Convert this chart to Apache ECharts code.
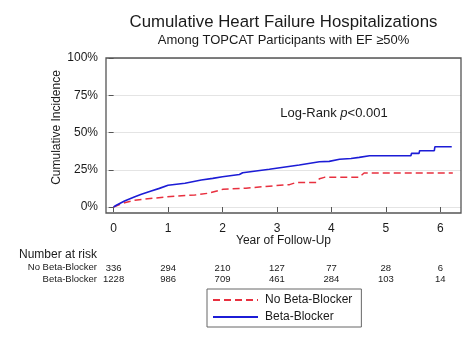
<!DOCTYPE html>
<html>
<head>
<meta charset="utf-8">
<script src="https://cdn.jsdelivr.net/npm/echarts@6/dist/echarts.min.js"></script>
<style>
  html, body { margin: 0; padding: 0; background: #fff; }
  #chart { width: 474px; height: 344px; }
</style>
</head>
<body>
<div id="chart"></div>
<script>
// Cumulative incidence (%) by year of follow-up
const blueT = [0, 0.05, 0.2, 0.39, 0.51, 0.69, 0.84, 1.0, 1.31, 1.61, 1.82, 2.0, 2.31, 2.37, 2.86, 3.41, 3.78, 3.96, 4.15, 4.36, 4.51, 4.7, 5.46, 5.47, 5.61, 5.62, 5.89, 5.9, 6.21];
const blueV = [0, 1.2, 4, 6.9, 8.5, 10.7, 12.5, 14.6, 15.9, 18.1, 19.2, 20.3, 21.8, 23, 25.3, 28.2, 30.4, 30.6, 32, 32.5, 33.3, 34.4, 34.4, 36, 36, 37.8, 37.8, 40.4, 40.4];
const redT = [0, 0.2, 0.39, 0.76, 1.12, 1.49, 1.73, 1.94, 2.01, 2.43, 2.86, 3.23, 3.35, 3.72, 3.78, 3.87, 4.51, 4.6, 6.23];
const redV = [0, 2.9, 4.5, 6, 7.3, 8, 9.2, 11.2, 11.9, 12.6, 14, 15, 16.4, 16.5, 19, 19.9, 20, 22.8, 22.8];

const yearTicks = [0, 1, 2, 3, 4, 5, 6];
const riskNoBB = [336, 294, 210, 127, 77, 28, 6];
const riskBB = [1228, 986, 709, 461, 284, 103, 14];
const seriesNames = ['No Beta-Blocker', 'Beta-Blocker'];

const FONT = '"Liberation Sans", Arial, Helvetica, sans-serif';
const TXT = '#1a1a1a';
const xMin = -0.14, xMax = 6.38;

function pairs(t, v) { return t.map((x, i) => [x, v[i]]); }

function riskAxis(counts, offset) {
  return {
    type: 'value', gridIndex: 0, position: 'bottom', offset: offset,
    min: xMin, max: xMax,
    axisLine: { show: false }, axisTick: { show: false }, splitLine: { show: false },
    axisLabel: {
      customValues: yearTicks, margin: 0, fontSize: 9.5, color: TXT, fontFamily: FONT,
      formatter: v => String(counts[yearTicks.indexOf(Math.round(v))])
    }
  };
}

const chart = echarts.init(document.getElementById('chart'), null, { renderer: 'canvas' });
chart.setOption({
  animation: false,
  backgroundColor: '#fff',
  textStyle: { fontFamily: FONT },
  title: {
    text: 'Cumulative Heart Failure Hospitalizations',
    subtext: 'Among TOPCAT Participants with EF \u226550%',
    left: 283.5, top: 14, textAlign: 'center', itemGap: 3, padding: 0,
    textStyle: { fontSize: 16.8, fontWeight: 'normal', color: TXT, fontFamily: FONT },
    subtextStyle: { fontSize: 13, color: TXT, fontFamily: FONT }
  },
  grid: { left: 106, right: 13, top: 58, bottom: 137, outerBoundsMode: 'none' },
  xAxis: [
    {
      type: 'value', min: xMin, max: xMax, offset: 6,
      name: 'Year of Follow-Up', nameLocation: 'middle', nameGap: 21.5, nameMoveOverlap: false,
      nameTextStyle: { fontSize: 12, color: TXT, fontFamily: FONT },
      axisLine: { show: false },
      axisTick: { customValues: yearTicks, length: 5, lineStyle: { color: '#555' } },
      axisLabel: { customValues: yearTicks, margin: 10, fontSize: 12, color: TXT, fontFamily: FONT },
      splitLine: { show: false }
    },
    riskAxis(riskNoBB, 56),
    riskAxis(riskBB, 67.3)
  ],
  yAxis: {
    type: 'value', min: 0, max: 100, interval: 25,
    name: 'Cumulative Incidence', nameLocation: 'middle', nameGap: 43, nameMoveOverlap: false,
    nameTextStyle: { fontSize: 12, color: TXT, fontFamily: FONT, padding: [0, 0, 0, 10] },
    axisLine: { show: false },
    axisTick: { show: true, length: 5, lineStyle: { color: '#555' } },
    axisLabel: { formatter: '{value}%', margin: 8, fontSize: 12, color: TXT, fontFamily: FONT },
    splitLine: { show: true, lineStyle: { color: '#e4e4e4', width: 1 } }
  },
  legend: {
    data: seriesNames,
    orient: 'vertical', left: 207, top: 289,
    itemWidth: 45, itemHeight: 12, itemGap: 5,
    padding: [5, 9, 4, 5],
    borderColor: '#666', borderWidth: 1,
    // line-only keys: hide the marker drawn on the key line
    itemStyle: { opacity: 0 },
    textStyle: { fontSize: 12, color: TXT, fontFamily: FONT, padding: [0, 0, 0, 2] }
  },
  graphic: [
    {
      type: 'rect', silent: true, z: 10,
      shape: { x: 106, y: 58, width: 355, height: 155 },
      style: { fill: 'none', stroke: '#555', lineWidth: 1.3 }
    },
    {
      type: 'text', left: 19, top: 249,
      style: { text: 'Number at risk', fontSize: 12, fill: TXT, fontFamily: FONT }
    },
    {
      type: 'text', x: 97, y: 267.7,
      style: { text: seriesNames[0], fontSize: 9.5, fill: TXT, fontFamily: FONT, align: 'right', verticalAlign: 'middle' }
    },
    {
      type: 'text', x: 97, y: 279,
      style: { text: seriesNames[1], fontSize: 9.5, fill: TXT, fontFamily: FONT, align: 'right', verticalAlign: 'middle' }
    },
    {
      type: 'text', x: 334, y: 113,
      style: {
        text: '{a|Log-Rank }{b|p}{a|<0.001}',
        align: 'center', verticalAlign: 'middle',
        rich: {
          a: { fontSize: 13, fill: TXT, fontFamily: FONT },
          b: { fontSize: 13, fill: TXT, fontFamily: FONT, fontStyle: 'italic' }
        }
      }
    }
  ],
  series: [
    {
      name: seriesNames[0], type: 'line', data: pairs(redT, redV),
      symbol: 'none', z: 3,
      lineStyle: { color: '#e8303f', width: 1.5, type: [7, 4] },
      itemStyle: { color: '#e8303f' }
    },
    {
      name: seriesNames[1], type: 'line', data: pairs(blueT, blueV),
      symbol: 'none', z: 4,
      lineStyle: { color: '#1c1cd6', width: 1.6 },
      itemStyle: { color: '#1c1cd6' }
    }
  ]
});
</script>
</body>
</html>
